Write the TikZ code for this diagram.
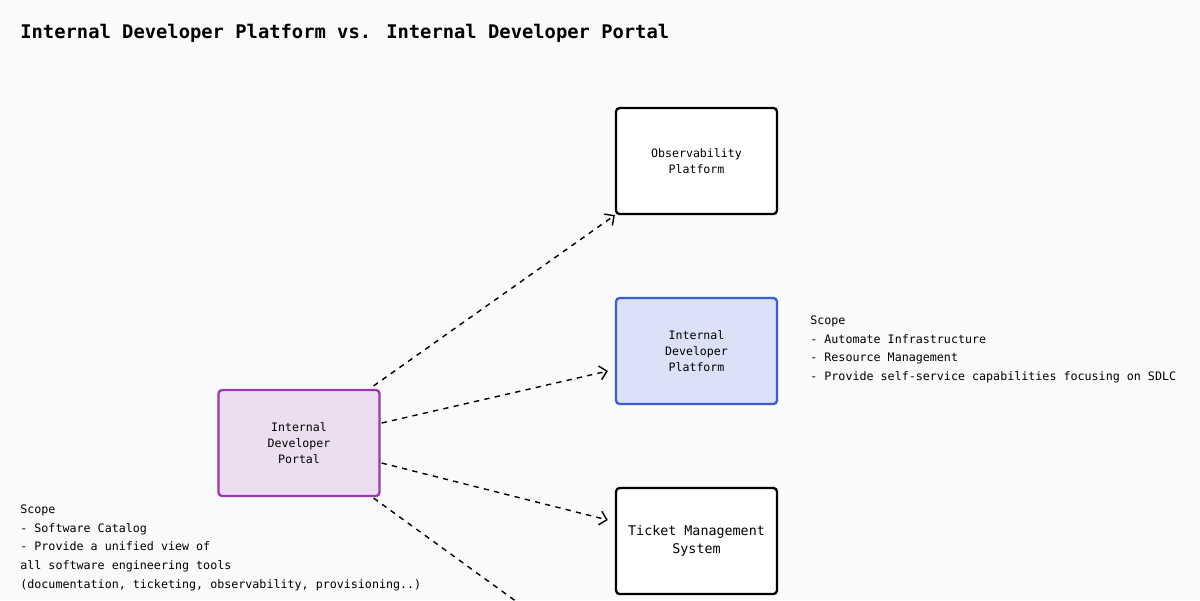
\documentclass[tikz,border=0pt]{standalone}
\usepackage{fontspec}
\setmainfont{DejaVu Sans Mono}
\usetikzlibrary{arrows.meta}

\definecolor{bgcol}{HTML}{F9FAFC}
\definecolor{portalfill}{HTML}{EDDDF1}
\definecolor{portaldraw}{HTML}{9C36B5}
\definecolor{platfill}{HTML}{DCE1F8}
\definecolor{platdraw}{HTML}{3B5BDB}

\tikzset{
  box/.style={draw=black, fill=white, line width=1.3pt, rounded corners=2pt,
    minimum width=3.22cm, minimum height=2.12cm, align=center,
    font=\fontsize{6.6}{9}\selectfont},
  link/.style={dashed, line width=0.8pt, -{Straight Barb[length=4pt]}},
  note/.style={anchor=north west, align=left, inner sep=0pt,
    font=\fontsize{6.65}{10.8}\selectfont}
}

\begin{document}
\begin{tikzpicture}[x=0.02cm, y=-0.02cm]

% Background
\fill [bgcol] ( 0, 0 ) rectangle ( 1200, 600 );
\useasboundingbox ( 0, 0 ) rectangle ( 1200, 600 );

% Title
\node (title) at ( 20, 33 ) [anchor=west, inner sep=0pt, font=\fontsize{10.7}{13}\selectfont\bfseries] {Internal Developer Platform vs. Internal Developer Portal};

% Boxes
\node (obs) at ( 696.5, 161 ) [box] {Observability\\Platform};
\node (idp) at ( 696.5, 351 ) [box, fill=platfill, draw=platdraw] {Internal\\Developer\\Platform};
\node (portal) at ( 299, 443 ) [box, fill=portalfill, draw=portaldraw] {Internal\\Developer\\Portal};
\node (ticket) at ( 696.5, 541 ) [box, font=\fontsize{7.6}{10.5}\selectfont] {Ticket Management\\System};
\coordinate (offpage) at ( 517, 602 );

% Link ends
\path (portal.north east) ++( -7, -3 ) coordinate (p1);
\path (portal.east) ++( 1, -20 ) coordinate (p2);
\path (portal.east) ++( 1, 20 ) coordinate (p3);
\path (portal.south east) ++( -7, 1 ) coordinate (p4);
\path (idp.west) ++( -7, 20 ) coordinate (q2);
\path (ticket.west) ++( -7, -21 ) coordinate (q3);

% Links
\draw [link] (p1) -- (obs.south west);
\draw [link] (p2) -- (q2);
\draw [link] (p3) -- (q3);
\draw [dashed, line width=0.8pt] (p4) -- (offpage);

% Scope notes
\node (scopeR) at ( 810, 315 ) [note] {Scope\\- Automate Infrastructure\\- Resource Management\\- Provide self-service capabilities focusing on SDLC};
\node (scopeL) at ( 20, 504 ) [note] {Scope\\- Software Catalog\\- Provide a unified view of\\all software engineering tools\\(documentation, ticketing, observability, provisioning..)};

\end{tikzpicture}
\end{document}
